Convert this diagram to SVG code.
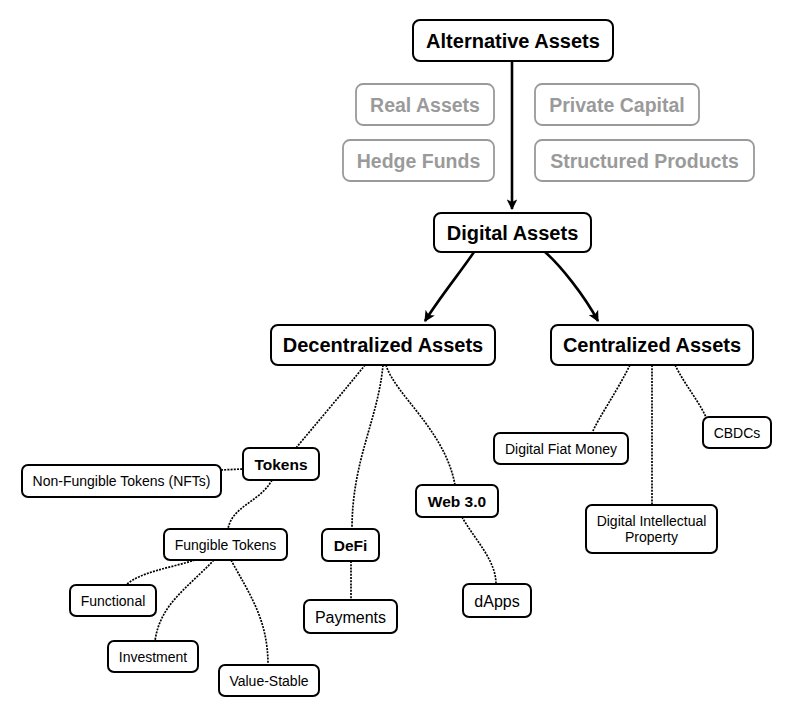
<svg xmlns="http://www.w3.org/2000/svg" width="804" height="717" viewBox="0 0 804 717">
<style>
.box{fill:#fff;stroke:#000;stroke-width:2}
.gbox{fill:#fff;stroke:#9a9a9a;stroke-width:1.8}
.t{font-family:"Liberation Sans",Arial,sans-serif;text-anchor:middle;fill:#000}
.b20{font-size:20px;font-weight:bold}
.b16{font-size:15.5px;font-weight:bold}
.r14{font-size:14px}
.r16{font-size:16px}
.g{fill:#9a9a9a;font-size:19.5px;font-weight:bold}
.arrow{fill:none;stroke:#000;stroke-width:2.6}
.dot{fill:none;stroke:#000;stroke-width:1.7;stroke-dasharray:2 1.2}
</style>
<defs>
<marker id="ah" viewBox="0 0 10 10" refX="9" refY="5" markerWidth="4.2" markerHeight="4.2" orient="auto" markerUnits="strokeWidth">
<path d="M0,0 L10,5 L0,10 L2.5,5 z" fill="#000"/>
</marker>
</defs>
<g id="connectors">
<path class="arrow" d="M512,61 L512,209" marker-end="url(#ah)"/>
<path class="arrow" d="M474,252 C462,270 440,297 425,321" marker-end="url(#ah)"/>
<path class="arrow" d="M545,252 C560,265 584,295 598,321" marker-end="url(#ah)"/>
<path class="dot" d="M365,365 C345,390 315,425 296,448"/>
<path class="dot" d="M383,365 C378,420 352,460 352,529"/>
<path class="dot" d="M386,365 C395,395 445,430 455,485"/>
<path class="dot" d="M221,470 L243,469"/>
<path class="dot" d="M272,480 C260,502 232,506 228,529"/>
<path class="dot" d="M195,560 C170,568 140,572 126,585"/>
<path class="dot" d="M214,560 C185,590 160,605 155,641"/>
<path class="dot" d="M231,560 C250,595 268,620 268,665"/>
<path class="dot" d="M351,561 L351,600"/>
<path class="dot" d="M462,517 C475,540 496,560 496,584"/>
<path class="dot" d="M630,365 C615,395 600,415 592,433"/>
<path class="dot" d="M652,365 L652,505"/>
<path class="dot" d="M675,365 C685,385 698,400 706,417"/>
</g>
<g id="alternative-assets"><rect class="box" x="413" y="20" width="200" height="41" rx="7"/><text class="t b20" x="513" y="47.5">Alternative Assets</text></g>
<g id="real-assets"><rect class="gbox" x="356" y="84" width="138" height="41" rx="7"/><text class="t g" x="425" y="111.5">Real Assets</text></g>
<g id="private-capital"><rect class="gbox" x="535" y="84" width="164" height="41" rx="7"/><text class="t g" x="617" y="111.5">Private Capital</text></g>
<g id="hedge-funds"><rect class="gbox" x="343" y="140" width="151" height="41" rx="7"/><text class="t g" x="418.5" y="167.5">Hedge Funds</text></g>
<g id="structured-products"><rect class="gbox" x="535" y="140" width="219" height="41" rx="7"/><text class="t g" x="644.5" y="167.5">Structured Products</text></g>
<g id="digital-assets"><rect class="box" x="434" y="213" width="157" height="39" rx="7"/><text class="t b20" x="512.5" y="239.5">Digital Assets</text></g>
<g id="decentralized-assets"><rect class="box" x="271" y="325" width="224" height="40" rx="7"/><text class="t b20" x="383" y="352">Decentralized Assets</text></g>
<g id="centralized-assets"><rect class="box" x="551" y="325" width="202" height="40" rx="7"/><text class="t b20" x="652" y="352">Centralized Assets</text></g>
<g id="tokens"><rect class="box" x="243" y="448" width="76" height="32" rx="6"/><text class="t b16" x="281" y="469.5">Tokens</text></g>
<g id="nfts"><rect class="box" x="22" y="465" width="199" height="32" rx="6"/><text class="t r14" x="121.5" y="486">Non-Fungible Tokens (NFTs)</text></g>
<g id="fungible-tokens"><rect class="box" x="164" y="529" width="123" height="31" rx="6"/><text class="t r14" x="225.5" y="549.5">Fungible Tokens</text></g>
<g id="defi"><rect class="box" x="322" y="529" width="57" height="32" rx="6"/><text class="t b16" x="350.5" y="550.5">DeFi</text></g>
<g id="payments"><rect class="box" x="304" y="600" width="93" height="33" rx="6"/><text class="t r16" x="350.5" y="622.5">Payments</text></g>
<g id="functional"><rect class="box" x="70" y="585" width="86" height="31" rx="6"/><text class="t r14" x="113" y="605.5">Functional</text></g>
<g id="investment"><rect class="box" x="108" y="641" width="90" height="31" rx="6"/><text class="t r14" x="153" y="661.5">Investment</text></g>
<g id="value-stable"><rect class="box" x="219" y="665" width="100" height="31" rx="6"/><text class="t r14" x="269" y="685.5">Value-Stable</text></g>
<g id="web3"><rect class="box" x="416" y="485" width="82" height="32" rx="6"/><text class="t b16" x="457" y="506.5">Web 3.0</text></g>
<g id="dapps"><rect class="box" x="463" y="584" width="68" height="33" rx="6"/><text class="t r16" x="497" y="606.5">dApps</text></g>
<g id="digital-fiat-money"><rect class="box" x="494" y="433" width="134" height="31" rx="6"/><text class="t r14" x="561" y="453.5">Digital Fiat Money</text></g>
<g id="digital-ip"><rect class="box" x="586" y="505" width="131" height="48" rx="6"/><text class="t r14" x="651.5" y="526">Digital Intellectual</text><text class="t r14" x="651.5" y="542">Property</text></g>
<g id="cbdcs"><rect class="box" x="703" y="417" width="68" height="31" rx="6"/><text class="t r14" x="737" y="437.5">CBDCs</text></g>
</svg>
